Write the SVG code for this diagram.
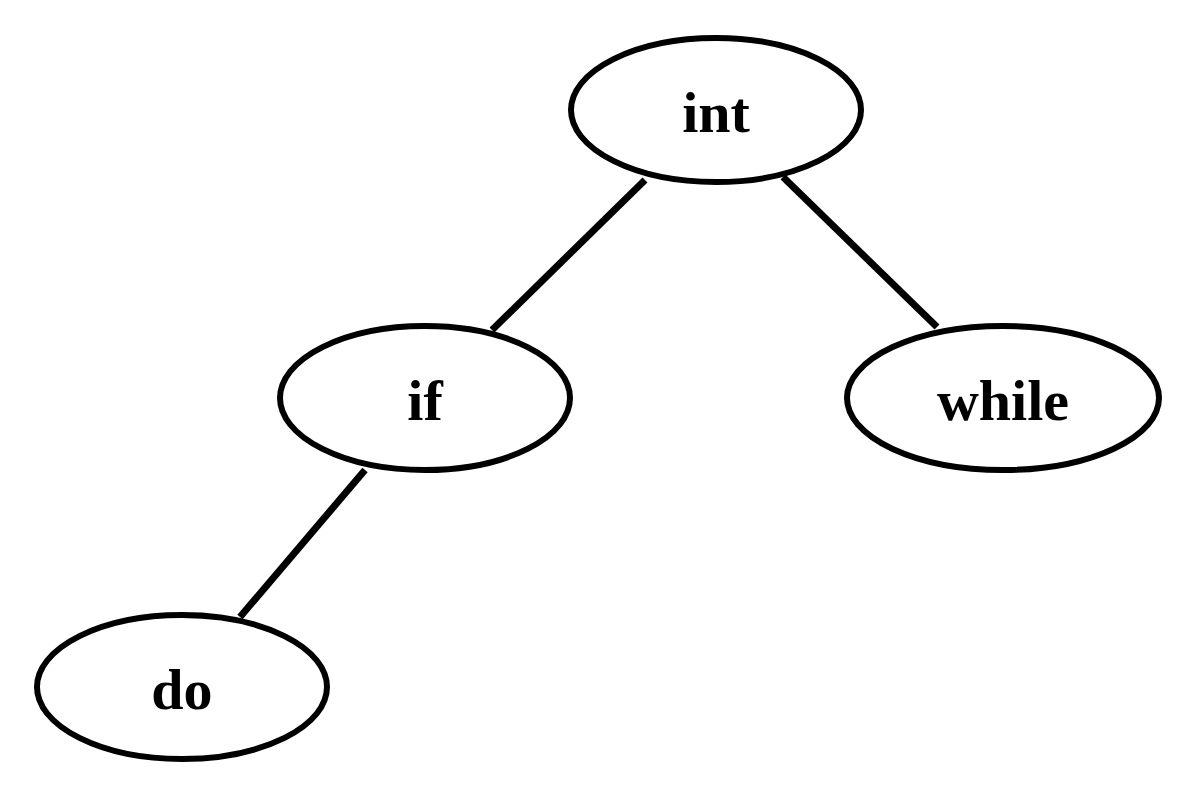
<svg xmlns="http://www.w3.org/2000/svg" width="1200" height="797" viewBox="0 0 1200 797">
<style>
ellipse{fill:#fff;stroke:#000;stroke-width:6}
line{stroke:#000;stroke-width:7}
text{font-family:"Liberation Serif","DejaVu Serif",serif;font-weight:bold;font-size:58px;text-anchor:middle;dominant-baseline:central}
</style>
<rect width="1200" height="797" fill="#fff"/>
<g id="connectors">
<line x1="645" y1="180" x2="492" y2="330"/>
<line x1="783" y1="177" x2="937" y2="327"/>
<line x1="365" y1="470" x2="240" y2="617"/>
</g>
<g id="int"><ellipse cx="716" cy="110" rx="145" ry="72"/><text x="716" y="112">int</text></g>
<g id="if"><ellipse cx="425" cy="398" rx="145" ry="72"/><text x="425" y="400">if</text></g>
<g id="while"><ellipse cx="1003" cy="398" rx="156" ry="72"/><text x="1003" y="400">while</text></g>
<g id="do"><ellipse cx="182" cy="687" rx="145" ry="72"/><text x="182" y="689">do</text></g>
</svg>
